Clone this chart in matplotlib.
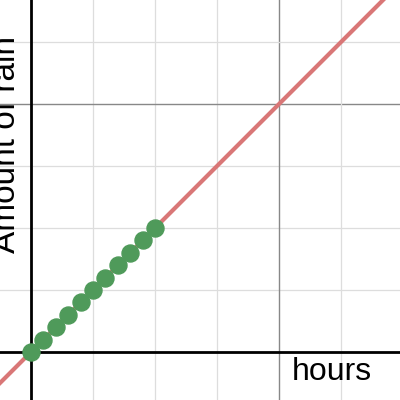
import matplotlib.pyplot as plt
import numpy as np

hours = [0.0, 0.2, 0.4, 0.6, 0.8, 1.0, 1.2, 1.4, 1.6, 1.8, 2.0]
rain = [0.0, 0.2, 0.4, 0.6, 0.8, 1.0, 1.2, 1.4, 1.6, 1.8, 2.0]
slope = 1.0

plt.rcParams['font.family'] = ['Liberation Sans', 'DejaVu Sans']
fig = plt.figure(figsize=(4, 4), dpi=100)
ax = fig.add_axes([0, 0, 1, 1])
xmin, xmax = -0.5, 5.95
ymin, ymax = -0.774, 5.677
ax.set_xlim(xmin, xmax)
ax.set_ylim(ymin, ymax)

# grid
for v in range(-1, 7):
    major = v == 4
    c = '#888888' if major else '#dddddd'
    lw = 1.0 if major else 0.9
    ax.axvline(v, color=c, lw=lw, zorder=0)
    ax.axhline(v, color=c, lw=lw, zorder=0)
ax.axvline(0, color='black', lw=2, zorder=1)
ax.axhline(0, color='black', lw=2, zorder=1)

xs = np.array([xmin, xmax])
ax.plot(xs, slope * xs, color='#d97777', lw=3, zorder=2)
ax.scatter(hours, rain, s=150, color='#4f9a5a', zorder=3)

ax.text(5.5, -0.33, 'hours', fontsize=23, ha='right', va='center')
ax.text(-0.39, 1.6, 'Amount of rain', fontsize=24, rotation=90, ha='center', va='bottom')

for s in ax.spines.values():
    s.set_visible(False)
ax.set_xticks([])
ax.set_yticks([])
fig.savefig('out.png')
